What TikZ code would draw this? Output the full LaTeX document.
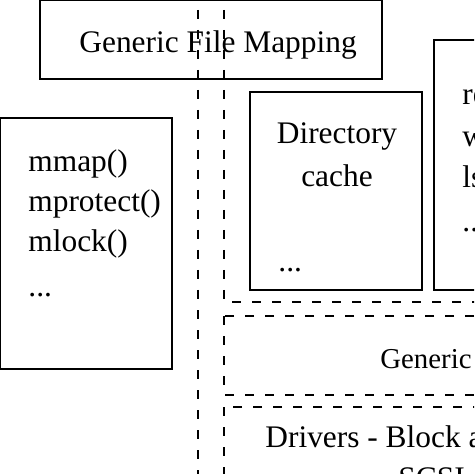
\documentclass[tikz,border=0pt]{standalone}
\usepackage{fontspec}
\setmainfont{Liberation Serif}
\usetikzlibrary{positioning}

\begin{document}
\begin{tikzpicture}[x=0.5pt,y=-0.5pt,
      box/.style={draw,line width=1pt},
      layer/.style={draw,line width=1pt,dash pattern=on 4.5pt off 5.5pt},
      lbl/.style={anchor=base west,inner sep=0pt,font=\fontsize{15.7}{20}\selectfont},
      clbl/.style={anchor=base,inner sep=0pt,font=\fontsize{15.7}{20}\selectfont}
    ]
      \useasboundingbox (0,0) rectangle (474,474);
      \clip (0,0) rectangle (474,474);
      % dashed layers
      \draw[layer] (198,-30) rectangle (540,540);
      \draw[layer] (224,-30) rectangle (540,302);
      \draw[layer] (224,316) rectangle (540,395);
      \draw[layer] (224,407) rectangle (540,540);
      % solid boxes
      \draw[box] (40,0) rectangle (382,79);
      \draw[box] (0,118) rectangle (172,369);
      \draw[box] (250,92) rectangle (422,290);
      \draw[box] (434,40) rectangle (540,290);
      % Generic File Mapping
      \node[lbl] (gfm) at (79,53) {Generic File Mapping};
      % system calls
      \node[lbl] (mmap) at (28,172) {mmap()};
      \node[lbl] (mprot) at (28,212) {mprotect()};
      \node[lbl] (mlock) at (28,252) {mlock()};
      \node[lbl] (mdots) at (28,297) {...};
      % directory cache
      \node[clbl] (dir) at (337,144) {Directory};
      \node[clbl] (cache) at (337,187) {cache};
      \node[lbl] (ddots) at (278,272) {...};
      % file calls
      \node[lbl] (rd) at (462,105) {read()};
      \node[lbl] (wr) at (462,147) {write()};
      \node[lbl] (ls) at (462,188) {lseek()};
      \node[lbl] (fdots) at (462,232) {...};
      % lower layers
      \node[lbl,font=\fontsize{14.4}{18}\selectfont] (gen) at (380,368) {Generic};
      \node[lbl] (drv) at (265,447) {Drivers - Block and};
      \node[lbl] (scsi) at (398,488) {SCSI};
    \end{tikzpicture}
\end{document}
